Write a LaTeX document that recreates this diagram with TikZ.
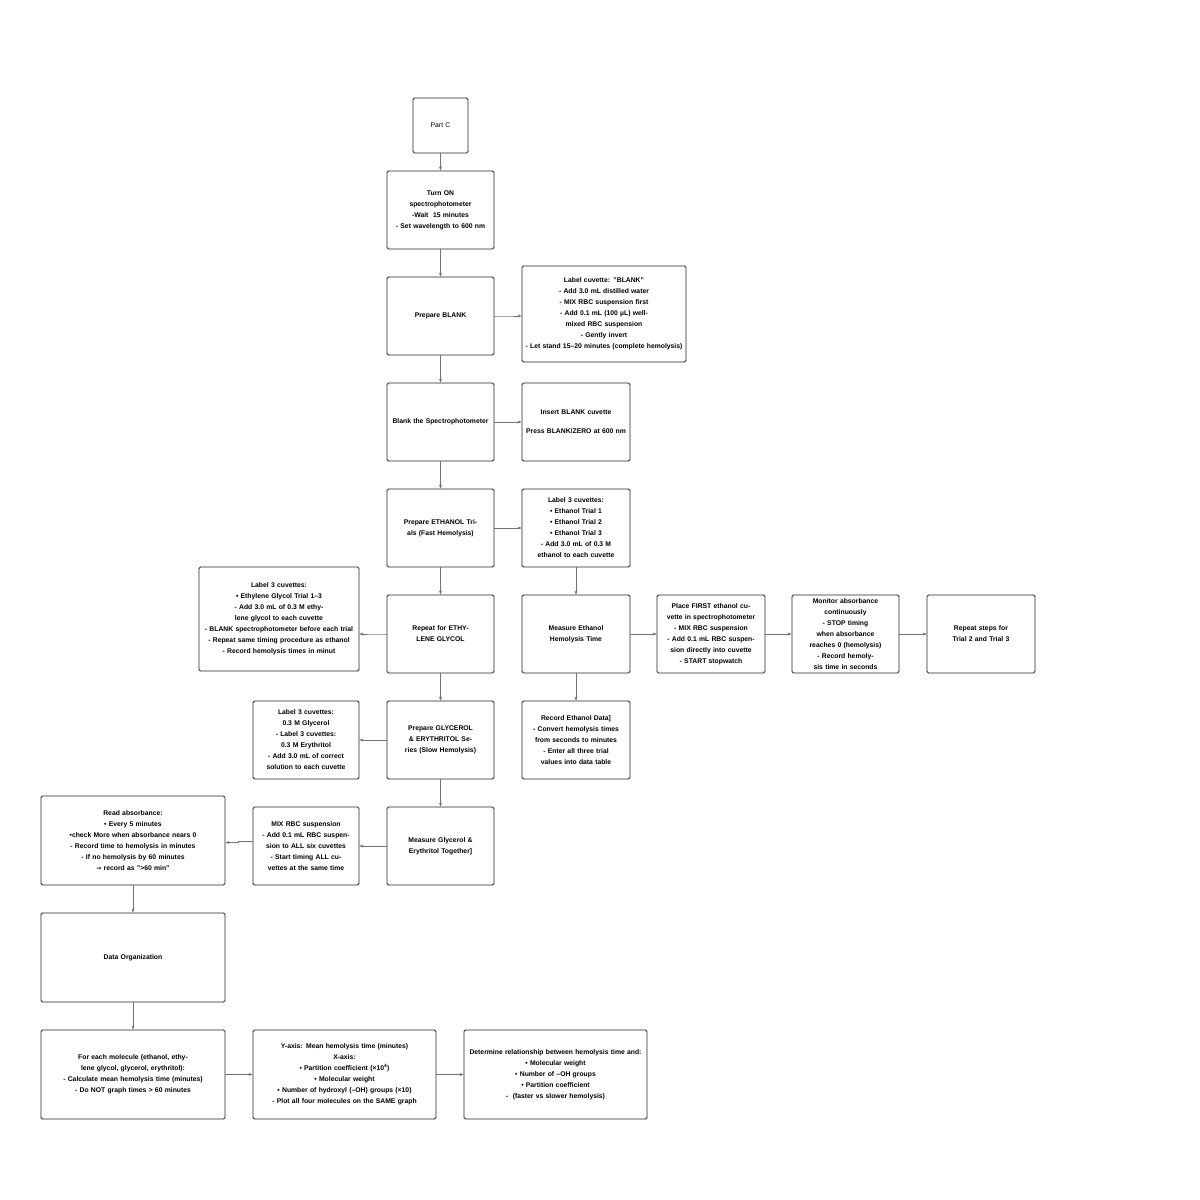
\documentclass[tikz,border=0pt]{standalone}
\usepackage{fontspec}
\setmainfont{Liberation Sans}
\usetikzlibrary{arrows.meta}
\begin{document}
\begin{tikzpicture}[x=1pt,y=-1pt,
 bx/.style={draw=black!85,line width=0.8pt,rounded corners=1.5pt,align=center,font=\fontsize{6.8}{11}\selectfont\bfseries,inner sep=2pt},
 ar/.style={draw=black!55,line width=0.5pt,-{Stealth[length=4pt,width=3pt]}}]
\useasboundingbox (0,0) rectangle (1200,1200);
\newcommand\bb[6]{\node[bx,minimum width=#4-#2,minimum height=#5-#3,text width=#4-#2-6] (#1) at ({(#2+#4)/2},{(#3+#5)/2}) {#6};}
\bb{pc}{413}{98}{468}{153}{\mdseries Part C}
\bb{on}{387}{171}{494}{249}{Turn ON\\spectrophotometer\\-Wait\ \ 15 minutes\\- Set wavelength to 600 nm}
\bb{pb}{387}{277}{494}{355}{Prepare BLANK}
\bb{lb}{522}{266}{686}{362}{Label cuvette: "BLANK"\\- Add 3.0 mL distilled water\\- MIX RBC suspension first\\- Add 0.1 mL (100 µL) well-mixed RBC suspension\\- Gently invert\\- Let stand 15–20 minutes (complete hemolysis)}
\bb{bs}{387}{383}{494}{461}{Blank the Spectrophotometer}
\bb{ins}{522}{383}{630}{461}{Insert BLANK cuvette\\[8pt]Press BLANK/ZERO at 600 nm}
\bb{pe}{387}{489}{494}{567}{Prepare ETHANOL Trials (Fast Hemolysis)}
\bb{le}{522}{489}{630}{567}{Label 3 cuvettes:\\• Ethanol Trial 1\\• Ethanol Trial 2\\• Ethanol Trial 3\\- Add 3.0 mL of 0.3 M ethanol to each cuvette}
\bb{reg}{387}{595}{494}{673}{Repeat for ETHYLENE GLYCOL}
\bb{leg}{199}{567}{359}{671}{Label 3 cuvettes:\\• Ethylene Glycol Trial 1–3\\- Add 3.0 mL of 0.3 M ethylene glycol to each cuvette\\- BLANK spectrophotometer before each trial\\- Repeat same timing procedure as ethanol\\- Record hemolysis times in minut}
\bb{me}{522}{595}{630}{673}{Measure Ethanol Hemolysis Time}
\bb{pf}{657}{595}{765}{673}{Place FIRST ethanol cuvette in spectrophotometer\\- MIX RBC suspension\\- Add 0.1 mL RBC suspension directly into cuvette\\- START stopwatch}
\bb{mo}{792}{595}{899}{673}{Monitor absorbance continuously\\- STOP timing when absorbance reaches 0 (hemolysis)\\- Record hemolysis time in seconds}
\bb{rs}{927}{595}{1035}{673}{Repeat steps for Trial 2 and Trial 3}
\bb{pg}{387}{701}{494}{779}{Prepare GLYCEROL \& ERYTHRITOL Series (Slow Hemolysis)}
\bb{lg}{253}{701}{359}{779}{Label 3 cuvettes: 0.3 M Glycerol\\- Label 3 cuvettes: 0.3 M Erythritol\\- Add 3.0 mL of correct solution to each cuvette}
\bb{re}{522}{701}{630}{779}{Record Ethanol Data]\\- Convert hemolysis times from seconds to minutes\\- Enter all three trial values into data table}
\bb{mg}{387}{807}{494}{885}{Measure Glycerol \& Erythritol Together]}
\bb{mix}{253}{807}{359}{885}{MIX RBC suspension\\- Add 0.1 mL RBC suspension to ALL six cuvettes\\- Start timing ALL cuvettes at the same time}
\bb{ra}{41}{796}{225}{885}{Read absorbance:\\• Every 5 minutes\\•check More when absorbance nears 0\\- Record time to hemolysis in minutes\\- If no hemolysis by 60 minutes\\{\fontspec{DejaVu Sans}\fontsize{6}{11}\selectfont →} record as "{>}60 min"}
\bb{do}{41}{913}{225}{1002}{Data Organization}
\bb{fe}{41}{1030}{225}{1119}{For each molecule (ethanol, ethylene glycol, glycerol, erythritol):\\- Calculate mean hemolysis time (minutes)\\- Do NOT graph times > 60 minutes}
\bb{ya}{253}{1030}{436}{1119}{Y-axis: Mean hemolysis time (minutes)\\X-axis:\\• Partition coefficient (×10\textsuperscript{4})\\• Molecular weight\\• Number of hydroxyl (–OH) groups (×10)\\- Plot all four molecules on the SAME graph}
\bb{de}{464}{1030}{647}{1119}{Determine relationship between hemolysis time and:\\• Molecular weight\\• Number of –OH groups\\• Partition coefficient\\-\ \ (faster vs slower hemolysis)}
\draw[ar] (pc)--(on); \draw[ar] (on)--(pb); \draw[ar] (pb)--(bs); \draw[ar] (bs)--(pe);
\draw[ar] (pe)--(reg); \draw[ar] (reg)--(pg); \draw[ar] (pg)--(mg);
\draw[ar] (pb.east) -- ++(14,0) |- ([yshift=-2]lb.west);
\draw[ar] (bs)--(ins); \draw[ar] (pe)--(pe-|le.west); \draw[ar] (le)--(me);
\draw[ar] (me)--(pf); \draw[ar] (pf)--(mo); \draw[ar] (mo)--(rs); \draw[ar] (me)--(re);
\draw[ar] (reg.west) -- ++(-14,0) |- ([yshift=-15]leg.east);
\draw[ar] (pg)--(pg-|lg.east); \draw[ar] (mg)--(mg-|mix.east);
\draw[ar] ([yshift=5]mix.west) -- ++(-14,0) |- ([yshift=-2]ra.east);
\draw[ar] (ra)--(do); \draw[ar] (do)--(fe); \draw[ar] (fe)--(ya); \draw[ar] (ya)--(de);
\end{tikzpicture}
\end{document}
